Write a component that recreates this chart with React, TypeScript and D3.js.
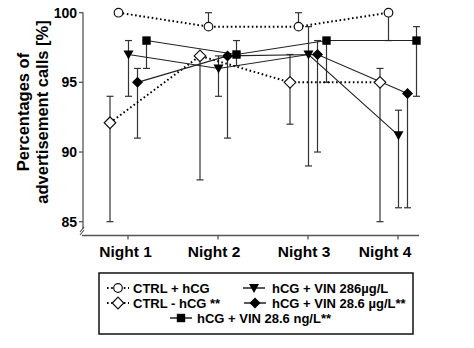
import React from "react";
import * as d3 from "d3";

const nights = ["Night 1", "Night 2", "Night 3", "Night 4"];
const nightLabelShift = [-2.5, -4, -4, -13];
const yTicks = [85, 90, 95, 100];

const ctrlHcgMean = [100, 99, 99, 100];
const ctrlHcgHi = [100, 100, 100, 100];
const ctrlHcgLo = [100, 99, 99, 98];

const ctrlNoHcgMean = [92.1, 96.9, 95, 95];
const ctrlNoHcgHi = [94, 96.9, 97, 96];
const ctrlNoHcgLo = [85, 88, 92, 85];

const vin286Mean = [97, 96, 97, 91.2];
const vin286Hi = [98, 96.9, 99, 93];
const vin286Lo = [94, 94, 89, 86];

const vin286uMean = [95, 96.9, 97, 94.2];
const vin286uHi = [96, 96.9, 98, 94.2];
const vin286uLo = [91, 91, 90, 86];

const vin286nMean = [98, 97, 98, 98];
const vin286nHi = [98, 98, 98, 99];
const vin286nLo = [96, 96.2, 95, 94];

type Marker = "circle" | "odiamond" | "triangle" | "diamond" | "square";

const series = [
  { name: "CTRL + hCG", mean: ctrlHcgMean, hi: ctrlHcgHi, lo: ctrlHcgLo, marker: "circle" as Marker, dotted: true, off: -9.5 },
  { name: "CTRL - hCG **", mean: ctrlNoHcgMean, hi: ctrlNoHcgHi, lo: ctrlNoHcgLo, marker: "odiamond" as Marker, dotted: true, off: -18 },
  { name: "hCG + VIN 286µg/L", mean: vin286Mean, hi: vin286Hi, lo: vin286Lo, marker: "triangle" as Marker, dotted: false, off: 0.5 },
  { name: "hCG + VIN 28.6 µg/L**", mean: vin286uMean, hi: vin286uHi, lo: vin286uLo, marker: "diamond" as Marker, dotted: false, off: 9.5 },
  { name: "hCG + VIN 28.6 ng/L**", mean: vin286nMean, hi: vin286nHi, lo: vin286nLo, marker: "square" as Marker, dotted: false, off: 18.5 },
];

const FONT = "'Liberation Sans', Arial, sans-serif";

function MarkerShape({ type, x, y }: { type: Marker; x: number; y: number }) {
  const stroke = "#111";
  switch (type) {
    case "circle":
      return <circle cx={x} cy={y} r={4.3} fill="#fff" stroke={stroke} strokeWidth={1.2} />;
    case "odiamond":
      return (
        <path d={`M${x},${y - 5.8}L${x + 5.8},${y}L${x},${y + 5.8}L${x - 5.8},${y}Z`} fill="#fff" stroke={stroke} strokeWidth={1.2} />
      );
    case "triangle":
      return <path d={`M${x - 5},${y - 4}L${x + 5},${y - 4}L${x},${y + 5}Z`} fill="#000" />;
    case "diamond":
      return <path d={`M${x},${y - 5.5}L${x + 5.5},${y}L${x},${y + 5.5}L${x - 5.5},${y}Z`} fill="#000" />;
    case "square":
      return <rect x={x - 4.2} y={y - 4.2} width={8.4} height={8.4} fill="#000" />;
  }
}

export default function App() {
  const W = 474;
  const H = 348;
  const x = d3.scalePoint<string>().domain(nights).range([128, 398]);
  const y = d3.scaleLinear().domain([85, 100]).range([221.7, 12.7]);
  const axisX0 = 83;
  const axisBottom = 235.5;
  const line = d3
    .line<[number, number]>()
    .x((d) => d[0])
    .y((d) => d[1]);

  const cap = 3.5;
  const axisColor = "#555";

  const legendItems = [
    { s: series[0], lx: 107, ly: 288, tx: 133 },
    { s: series[2], lx: 243, ly: 288, tx: 272 },
    { s: series[1], lx: 107, ly: 303, tx: 133 },
    { s: series[3], lx: 244, ly: 303, tx: 272 },
    { s: series[4], lx: 170, ly: 318, tx: 197 },
  ];

  return (
    <svg width={W} height={H} style={{ position: "absolute", left: 0, top: 0, background: "#fff" }} fontFamily={FONT}>
      <rect width={W} height={H} fill="#fff" />
      {/* Y axis */}
      <line x1={axisX0} x2={axisX0} y1={y(100) - 0.5} y2={229} stroke={axisColor} strokeWidth={1.3} />
      <line x1={axisX0 - 3} x2={axisX0 + 1} y1={232} y2={227} stroke={axisColor} strokeWidth={1.2} />
      <line x1={axisX0 - 3} x2={axisX0 + 1} y1={235} y2={230} stroke={axisColor} strokeWidth={1.2} />
      {yTicks.map((t) => (
        <g key={t}>
          <line x1={axisX0 - 4} x2={axisX0} y1={y(t)} y2={y(t)} stroke={axisColor} strokeWidth={1.3} />
          <text x={axisX0 - 6} y={y(t)} dy="0.35em" textAnchor="end" fontSize={14} fontWeight="bold">
            {t}
          </text>
        </g>
      ))}
      {/* X axis */}
      <line x1={axisX0 - 1} x2={419} y1={axisBottom} y2={axisBottom} stroke={axisColor} strokeWidth={1.3} />
      {nights.map((n, i) => (
        <g key={n}>
          <line x1={x(n)!} x2={x(n)!} y1={axisBottom} y2={axisBottom + 4} stroke={axisColor} strokeWidth={1.3} />
          <text x={x(n)! + nightLabelShift[i]} y={axisBottom + 21} textAnchor="middle" fontSize={15.5} fontWeight="bold">
            {n}
          </text>
        </g>
      ))}
      {/* Y label */}
      <g transform="translate(0,112) rotate(-90)" fontSize={16.5} fontWeight="bold">
        <text x={0} y={28.5} textAnchor="middle">
          Percentages of
        </text>
        <text x={0} y={48} textAnchor="middle">
          advertisement calls [%]
        </text>
      </g>
      {/* Error bars */}
      {series.map((s) =>
        nights.map((n, i) => {
          const cx = x(n)! + s.off;
          const yh = y(s.hi[i]);
          const yl = y(s.lo[i]);
          return (
            <g key={s.name + n} stroke="#333" strokeWidth={1.2}>
              {s.hi[i] > s.mean[i] && (
                <>
                  <line x1={cx} x2={cx} y1={y(s.mean[i])} y2={yh} />
                  <line x1={cx - cap} x2={cx + cap} y1={yh} y2={yh} />
                </>
              )}
              {s.lo[i] < s.mean[i] && (
                <>
                  <line x1={cx} x2={cx} y1={y(s.mean[i])} y2={yl} />
                  <line x1={cx - cap} x2={cx + cap} y1={yl} y2={yl} />
                </>
              )}
            </g>
          );
        })
      )}
      {/* Lines */}
      {series.map((s) => (
        <path
          key={s.name + "line"}
          d={line(nights.map((n, i) => [x(n)! + s.off, y(s.mean[i])]))!}
          fill="none"
          stroke={s.dotted ? "#000" : "#222"}
          strokeWidth={s.dotted ? 2 : 1.1}
          strokeDasharray={s.dotted ? "1.6,2.6" : undefined}
        />
      ))}
      {/* Markers */}
      {series.map((s) =>
        nights.map((n, i) => <MarkerShape key={s.name + n + "m"} type={s.marker} x={x(n)! + s.off} y={y(s.mean[i])} />)
      )}
      {/* Legend */}
      <rect x={99} y={273} width={314} height={61} fill="#fff" stroke="#111" strokeWidth={1.5} />
      {legendItems.map(({ s, lx, ly, tx }) => (
        <g key={s.name + "leg"}>
          <line
            x1={lx}
            x2={lx + 22}
            y1={ly}
            y2={ly}
            stroke={s.dotted ? "#000" : "#222"}
            strokeWidth={s.dotted ? 2 : 1.5}
            strokeDasharray={s.dotted ? "1.6,2.6" : undefined}
          />
          <MarkerShape type={s.marker} x={lx + 11} y={ly} />
          <text x={tx} y={ly} dy="0.36em" fontSize={13} fontWeight="bold">
            {s.name}
          </text>
        </g>
      ))}
    </svg>
  );
}
